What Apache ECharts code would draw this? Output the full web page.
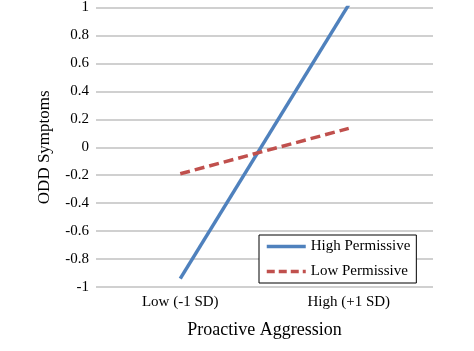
<!DOCTYPE html>
<html>
<head>
<meta charset="utf-8">
<script src="https://cdn.jsdelivr.net/npm/echarts@6/dist/echarts.min.js"></script>
<style>
  html, body { margin: 0; padding: 0; background: #fff; }
  #chart { width: 474px; height: 351px; }
</style>
</head>
<body>
<div id="chart"></div>
<script>
const categories = ["Low (-1 SD)", "High (+1 SD)"];
const highPermissive = [-0.94, 1.02];
const lowPermissive = [-0.19, 0.135];

const chart = echarts.init(document.getElementById("chart"));
const font = "Liberation Serif";

const option = {
  animation: false,
  backgroundColor: "#fff",
  grid: { left: 96, right: 41, top: 5, bottom: 64 },
  legend: {
    orient: "vertical",
    left: 259,
    top: 235,
    padding: [4, 6, 4, 6],
    itemGap: 10,
    itemWidth: 39,
    itemHeight: 10,
    borderColor: "#000",
    borderWidth: 1,
    backgroundColor: "#fff",
    itemStyle: { opacity: 0 },
    textStyle: { fontFamily: font, fontSize: 15, color: "#000" },
    data: [
      { name: "High Permissive", lineStyle: { width: 3.5 } },
      { name: "Low Permissive", lineStyle: { width: 3.5, type: [8, 4] } }
    ]
  },
  xAxis: {
    type: "category",
    data: categories,
    boundaryGap: true,
    name: "Proactive Aggression",
    nameLocation: "middle",
    nameGap: 34,
    nameTextStyle: { fontFamily: font, fontSize: 18, color: "#000" },
    axisLine: { show: false },
    axisTick: { show: false },
    axisLabel: { fontFamily: font, fontSize: 15, color: "#000", margin: 8 }
  },
  yAxis: {
    type: "value",
    min: -1,
    max: 1,
    interval: 0.2,
    name: "ODD Symptoms",
    nameLocation: "middle",
    nameGap: 43,
    nameTextStyle: { fontFamily: font, fontSize: 17, color: "#000" },
    axisLine: { show: false },
    axisTick: { show: false },
    axisLabel: {
      fontFamily: font, fontSize: 15, color: "#000", margin: 7,
      formatter: v => String(Math.round(v * 10) / 10)
    },
    splitLine: { lineStyle: { color: "#c0c0c0", width: 1.5 } }
  },
  series: [
    {
      name: "High Permissive",
      type: "line",
      data: highPermissive,
      symbol: "none",
      clip: true,
      color: "#4F81BD",
      lineStyle: { color: "#4F81BD", width: 3.5 }
    },
    {
      name: "Low Permissive",
      type: "line",
      data: lowPermissive,
      symbol: "none",
      color: "#C0504D",
      lineStyle: { color: "#C0504D", width: 3.5, type: [10, 5] }
    }
  ]
};

chart.setOption(option);
</script>
</body>
</html>
